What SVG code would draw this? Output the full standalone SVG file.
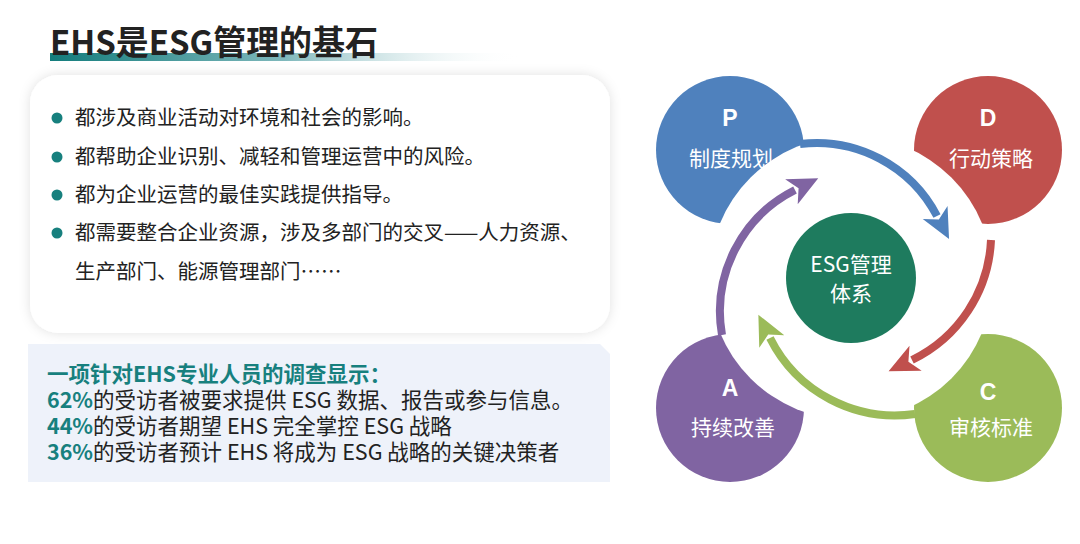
<svg xmlns="http://www.w3.org/2000/svg" width="1080" height="544" viewBox="0 0 1080 544">
<defs>
<linearGradient id="bar" x1="0" x2="1"><stop offset="0" stop-color="#137c7c"/><stop offset="0.5" stop-color="#7fb8bc"/><stop offset="1" stop-color="#ffffff" stop-opacity="0"/></linearGradient>
<filter id="sh" x="-10%" y="-10%" width="120%" height="120%"><feGaussianBlur in="SourceAlpha" stdDeviation="6"/><feColorMatrix values="0 0 0 0 0 0 0 0 0 0 0 0 0 0 0 0 0 0 0.12 0"/><feMerge><feMergeNode/><feMergeNode in="SourceGraphic"/></feMerge></filter>
<marker id="hb" markerUnits="userSpaceOnUse" markerWidth="32" markerHeight="32" refX="4" refY="16" orient="auto"><path d="M0,2 L30,16 L0,30 L8,16Z" fill="#4f81bd"/></marker>
<marker id="hr" markerUnits="userSpaceOnUse" markerWidth="32" markerHeight="32" refX="4" refY="16" orient="auto"><path d="M0,2 L30,16 L0,30 L8,16Z" fill="#c0504d"/></marker>
<marker id="hg" markerUnits="userSpaceOnUse" markerWidth="32" markerHeight="32" refX="4" refY="16" orient="auto"><path d="M0,2 L30,16 L0,30 L8,16Z" fill="#9bbb59"/></marker>
<marker id="hp" markerUnits="userSpaceOnUse" markerWidth="32" markerHeight="32" refX="4" refY="16" orient="auto"><path d="M0,2 L30,16 L0,30 L8,16Z" fill="#8064a2"/></marker>
</defs>
<style>
.t{font-family:"Noto Sans CJK SC","Liberation Sans",sans-serif}
.b{font-size:20.5px;fill:#222}
.s{font-size:21.5px;fill:#222}
.k{fill:#17807e;font-weight:bold}
.w{fill:#fff;font-family:"Liberation Sans","Noto Sans CJK SC",sans-serif}
.L{font-size:23px;font-weight:bold}
.n{font-size:21px;font-family:"Noto Sans CJK SC",sans-serif}
.arc{fill:none;stroke-width:8}
</style>
<rect x="50" y="53" width="470" height="8" fill="url(#bar)"/>
<text x="50" y="55" class="t" font-size="34" font-weight="bold" fill="#222" textLength="328" lengthAdjust="spacingAndGlyphs">EHS是ESG管理的基石</text>
<g id="panel">
<rect x="30" y="75" width="580" height="258" rx="28" fill="#fff" filter="url(#sh)"/>
<g fill="#17807e"><circle cx="57" cy="118" r="5.5"/><circle cx="57" cy="157" r="5.5"/><circle cx="57" cy="195" r="5.5"/><circle cx="57" cy="233" r="5.5"/></g>
<text class="t b" x="75" y="125">都涉及商业活动对环境和社会的影响。</text>
<text class="t b" x="75" y="164">都帮助企业识别、减轻和管理运营中的风险。</text>
<text class="t b" x="75" y="202">都为企业运营的最佳实践提供指导。</text>
<text class="t b" x="75" y="240">都需要整合企业资源，涉及多部门的交叉——人力资源、</text>
<text class="t b" x="75" y="279">生产部门、能源管理部门……</text>
</g>
<g id="survey">
<path d="M28,344 H600 L610,354 V482 H28Z" fill="#eef2fa"/>
<text class="t s k" x="47" y="382">一项针对EHS专业人员的调查显示：</text>
<text class="t s" x="47" y="408"><tspan class="k">62%</tspan>的受访者被要求提供 ESG 数据、报告或参与信息。</text>
<text class="t s" x="47" y="434"><tspan class="k">44%</tspan>的受访者期望 EHS 完全掌控 ESG 战略</text>
<text class="t s" x="47" y="460"><tspan class="k">36%</tspan>的受访者预计 EHS 将成为 ESG 战略的关键决策者</text>
</g>
<g id="P"><circle cx="730" cy="150" r="74" fill="#4f81bd"/></g>
<g id="D"><circle cx="988" cy="150" r="74" fill="#c0504d"/></g>
<g id="A"><circle cx="730" cy="408" r="74" fill="#8064a2"/></g>
<g id="C"><circle cx="988" cy="408" r="74" fill="#9bbb59"/></g>
<circle cx="851" cy="278" r="142" fill="#fff"/>
<g id="labels">
<text class="w L" x="730" y="126" text-anchor="middle">P</text>
<text class="w n" x="731" y="166" text-anchor="middle">制度规划</text>
<text class="w L" x="988" y="126" text-anchor="middle">D</text>
<text class="w n" x="991" y="166" text-anchor="middle">行动策略</text>
<text class="w L" x="730" y="396" text-anchor="middle">A</text>
<text class="w n" x="733" y="435" text-anchor="middle">持续改善</text>
<text class="w L" x="988" y="400" text-anchor="middle">C</text>
<text class="w n" x="991" y="435" text-anchor="middle">审核标准</text>
</g>
<g id="center">
<circle cx="851" cy="278" r="65" fill="#1e7b5e"/>
<text class="w n" x="851" y="272" text-anchor="middle" font-size="22">ESG管理</text>
<text class="w n" x="851" y="301" text-anchor="middle" font-size="22">体系</text>
</g>
<g id="connectors">
<path class="arc" stroke="#4f81bd" d="M800,144 A136 136 0 0 1 937,216" marker-end="url(#hb)"/>
<path class="arc" stroke="#c0504d" d="M991,240 A140 140 0 0 1 912,360" marker-end="url(#hr)"/>
<path class="arc" stroke="#9bbb59" d="M915,414 A140 140 0 0 1 770,338" marker-end="url(#hg)"/>
<path class="arc" stroke="#8064a2" d="M722,335 A136 136 0 0 1 795,190" marker-end="url(#hp)"/>
</g>
</svg>
